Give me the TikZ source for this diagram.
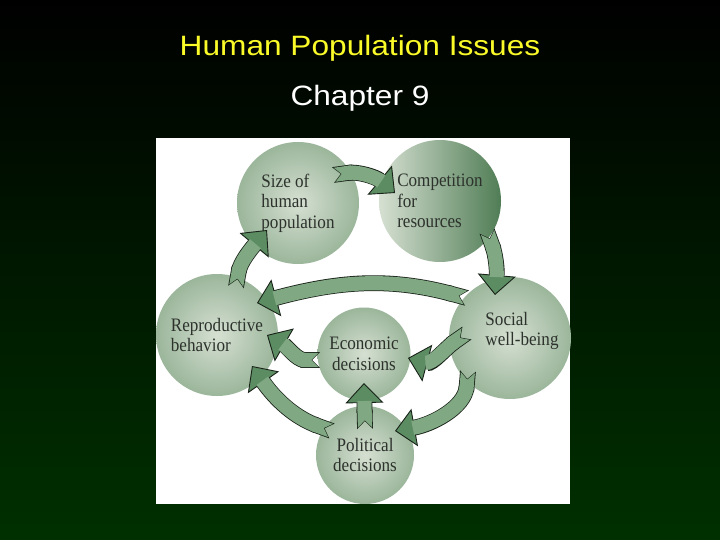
\documentclass[tikz,border=0pt]{standalone}
\usepackage{fontspec}
\setmainfont{Liberation Sans}
\newfontfamily\titlefont[FakeStretch=1.13]{Liberation Sans}
\newfontfamily\ballfont[FakeStretch=0.9]{Liberation Serif}
\usetikzlibrary{arrows.meta,calc}

\definecolor{slidegreen}{RGB}{0,48,0}
\definecolor{titleyellow}{RGB}{250,250,40}
\definecolor{ballin}{RGB}{214,224,210}
\definecolor{ballout}{RGB}{155,182,155}
\definecolor{compdark}{RGB}{80,125,85}
\definecolor{ballink}{RGB}{45,50,45}
\definecolor{flowfill}{RGB}{128,168,130}
\definecolor{flowhead}{RGB}{92,140,98}
\definecolor{flowline}{RGB}{25,35,25}

\tikzset{
  ball/.style={circle, minimum size=122pt, inner sep=0pt, shading=radial,
    inner color=ballin, outer color=ballout, text=ballink, align=left,
    font=\ballfont\fontsize{19}{20.5}\selectfont},
  flow/.style={draw=flowline, line width=15.8pt,
    arrows={{Triangle Cap[reversed]}-{Triangle[length=20pt,width=38pt,fill=flowhead,line width=.9pt]}},
    postaction={draw=flowfill, line width=14.2pt, arrows={{Triangle Cap[reversed]}-},
      shorten <=1.6pt, shorten >=18pt}},
  heading/.style={anchor=base, font=\titlefont\fontsize{28}{34}\selectfont}
}

\begin{document}
\begin{tikzpicture}[x=1pt, y=1pt]
  % slide and photo area
  \shade[top color=black, bottom color=slidegreen] (0,0) rectangle (720,-540);
  \fill[white] (156,-138) rectangle (570,-504);

  \node[heading, text=titleyellow] (title) at (360,-56) {Human Population Issues};
  \node[heading, text=white] (chapter) at (360,-106) {Chapter 9};

  % the six circles
  \node[ball] (size) at (298,-203) {Size of\\human\\population};
  \node[ball, left color=ballin, right color=compdark] (comp) at (440,-201) {Competition\\for\\resources};
  \node[ball] (repro) at (217,-335) {Reproductive\\behavior};
  \node[ball, label={[ballink, align=left, font=\ballfont\fontsize{19}{20.5}\selectfont,
    xshift=12pt, yshift=7pt]center:Social\\well-being}] (social) at (510,-338) {};
  \node[ball, minimum size=93pt, align=center] (econ) at (364,-354) {Economic\\decisions};
  \node[ball, minimum size=98pt, align=center] (pol) at (365,-455) {Political\\decisions};

  % feedback arrows
  \draw[flow] ($(size)+(35,28)$) to[out=8, in=140] ($(comp)+(-45,8)$);
  \draw[flow] ($(comp)+(47,-30)$) to[out=-70, in=85] ($(social)+(-15,43)$);
  \draw[flow] ($(social)+(-43,40)$) to[out=165, in=15] ($(repro)+(40,32)$);
  \draw[flow] ($(social)+(-43,5)$) to[out=215, in=-15] ($(econ)+(44,-4)$);
  \draw[flow] ($(econ)+(-44,-6)$) to[out=180, in=-30] ($(repro)+(50,0)$);
  \draw[flow] ($(social)+(-42,-33)$) to[out=-95, in=10] ($(pol)+(30,24)$);
  \draw[flow] ($(pol)+(-33,24)$) to[out=160, in=-55] ($(repro)+(35,-31)$);
  \draw[flow] ($(pol)+(0,26)$) -- ($(econ)+(0,-29)$);
  \draw[flow] ($(repro)+(19,48)$) to[out=80, in=-130] ($(size)+(-31,-27)$);
\end{tikzpicture}
\end{document}
